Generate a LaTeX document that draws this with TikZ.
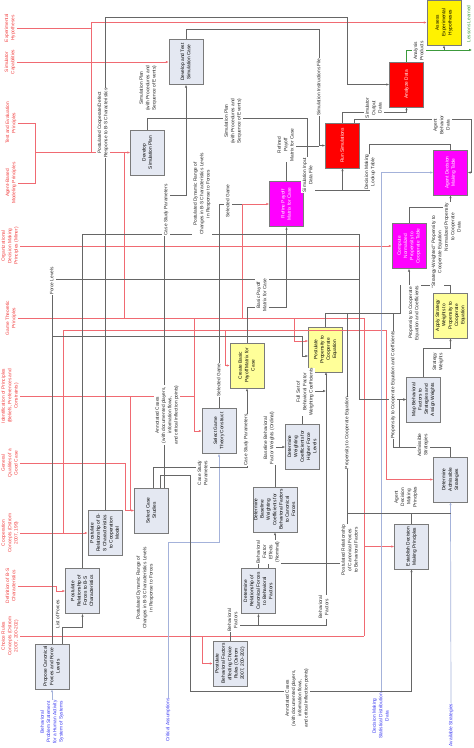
\documentclass[tikz,border=0pt]{standalone}
\usepackage{graphicx}
\usepackage{fontspec}
\setmainfont{Liberation Sans}
\usetikzlibrary{arrows.meta}

\definecolor{boxgray}{HTML}{E4E8F2}
\definecolor{edgegray}{HTML}{7A7A7A}
\definecolor{linegray}{HTML}{666666}
\definecolor{linered}{HTML}{F06A72}
\definecolor{txtred}{HTML}{F03C3C}
\definecolor{lineblue}{HTML}{A4B2DA}
\definecolor{txtblue}{HTML}{3535F0}
\definecolor{boxyellow}{HTML}{FFFF99}
\definecolor{boxmagenta}{HTML}{FF00FF}
\definecolor{boxred}{HTML}{FF0000}
\definecolor{txtgreen}{HTML}{3C9A3C}

% rotated, centred text block
\newcommand{\rt}[1]{\rotatebox{90}{\begin{tabular}{@{}c@{}}#1\end{tabular}}}

\tikzset{
  act/.style = {draw = edgegray, fill = boxgray, line width = 0.6pt,
                minimum width = 34, minimum height = 45, inner sep = 0pt},
  yact/.style = {act, fill = boxyellow},
  mact/.style = {act, fill = boxmagenta, text = white},
  ract/.style = {act, fill = boxred, text = white},
  ctl/.style = {draw = linered, line width = 0.7pt},
  flw/.style = {draw = linegray, line width = 0.7pt},
  mch/.style = {draw = lineblue, line width = 0.7pt},
  tip/.style = {-{Latex[length = 2.8pt, width = 2.4pt]}},
  inlab/.style = {text = txtred},
  mchlab/.style = {text = txtblue},
  arclab/.style = {text = black!85, fill = white}
}

\begin{document}
\begin{tikzpicture}[x = 1pt, y = -1pt,
    every node/.style = {font = \fontsize{4.8}{6.3}\selectfont, inner sep = 0.4pt}]
  \useasboundingbox (0, 0) rectangle (474, 748);

  % activities
  \node [act]  (propose)   at (52, 666.5)   {\rt{Propose Canonical\\Forces and Force\\Levels}};
  \node [act]  (relforces) at (82.5, 591)   {\rt{Postulate\\Relationship of\\Forces to B-S\\Characteristics}};
  \node [act]  (relcoop)   at (105, 533)    {\rt{Postulate\\Relationship of B-\\S Characteristics\\to Cooperation\\Model}};
  \node [act]  (selcase)   at (151.5, 510.5) {\rt{Select Case\\Studies}};
  \node [act]  (devplan)   at (147.5, 152.5) {\rt{Develop\\Simulation Plan}};
  \node [act]  (devcase)   at (186, 62)     {\rt{Develop and Test\\Simulation Case}};
  \node [act]  (selgame)   at (219, 431)    {\rt{Select Game\\Theory Construct}};
  \node [yact] (basicpay)  at (247, 365.5)  {\rt{Create Basic\\Payoff Matrix for\\Case}};
  \node [mact] (refinepay) at (286.5, 204)  {\rt{Refine Payoff\\Matrix for Case}};
  \node [act, minimum width = 43]
               (baseline)  at (275, 509.5)  {\rt{Determine\\Baseline\\Weighting\\Coefficients for\\Behavioral Factors\\to Canonical\\Forces}};
  \node [act]  (higher)    at (302.5, 446.5) {\rt{Determine\\Weighting\\Coefficients for\\Higher Force\\Levels}};
  \node [act]  (relcanon)  at (258.5, 591)  {\rt{Determine\\Relationship of\\Canonical Forces\\to Behavioral\\Factors}};
  \node [act]  (behfact)   at (230, 663.5)  {\rt{Postulate\\Behavioral Factors\\affecting Choice\\Rules (Ostrom\\2007, 200-202)}};
  \node [yact] (propeq)    at (325.5, 349.5) {\rt{Postulate\\Propensity to\\Cooperate\\Equation}};
  \node [mact] (normtab)   at (409, 246)    {\rt{Compute\\Normalized\\Propensity to\\Cooperate Table}};
  \node [mact] (agenttab)  at (450.5, 172.5) {\rt{Agent Decision\\Making Table}};
  \node [yact] (applyw)    at (450.5, 315.5) {\rt{Apply Strategy\\Weights to\\Propensity to\\Cooperate\\Equation}};
  \node [act]  (mapfact)   at (423.5, 399.5) {\rt{Map Behavioral\\Factors to\\Strategies and\\Assign Weights}};
  \node [act]  (admiss)    at (450.5, 479.5) {\rt{Determine\\Admissible\\Strategies}};
  \node [act]  (estprin)   at (411.5, 546.5) {\rt{Establish Decision\\Making Principles}};
  \node [ract] (runsim)    at (342.5, 145.5) {\rt{Run Simulations}};
  \node [ract] (analyze)   at (406.5, 84.5)  {\rt{Analyze Data}};
  \node [act, fill = yellow]
               (assess)    at (444, 22.5)   {\rt{Assess\\Experimental\\Hypotheses}};

  % controls
  \node [inlab] (lhyp)    at (10, 28)  {\rt{Experimental\\Hypotheses}};
  \node [inlab] (lsimcap) at (10, 62)  {\rt{Simulator\\Capabilities}};
  \node [inlab] (ltest)   at (11, 123) {\rt{Test and Evaluation\\Principles}};
  \node [inlab] (lagent)  at (11, 183) {\rt{Agent-Based\\Modeling Principles}};
  \node [inlab] (lorg)    at (10, 246) {\rt{Organizational\\Decision Making\\Principles (Miner)}};
  \node [inlab] (lgame)   at (11, 318) {\rt{Game Theoretic\\Principles}};
  \node [inlab] (lident)  at (10, 396) {\rt{Identification of Principles\\(Beliefs, Preferences and\\Constraints)}};
  \node [inlab] (lqual)   at (10, 463) {\rt{General\\Qualities of a\\Good Case}};
  \node [inlab] (lcoop)   at (10, 533) {\rt{Cooperation\\Concepts (Ostrom\\2007, 199)}};
  \node [inlab] (ldef)    at (11, 586) {\rt{Definition of B-S\\Characteristics}};
  \node [inlab] (lchoice) at (10, 636) {\rt{Choice Rules\\Concepts (Ostrom\\2007, 200-202)}};

  \draw [ctl] (lhyp.east) -- (91, 28);
  \draw [ctl, tip] (91, 152.5) -- (91, 22.5) -- (assess.west);
  \draw [ctl, tip] (lsimcap.east) -- (devcase.west);
  \draw [ctl] (ltest.east) -| (35, 183) -- (lagent.east);
  \draw [ctl, tip] (35, 152.5) -- (devplan.west);
  \draw [ctl] (124, 152.5) -- (124, 318);
  \draw [ctl, tip] (lorg.east) -- (normtab.west);
  \draw [ctl] (lgame.east) -- (364, 318) -- (364, 636);
  \draw [ctl, tip] (194, 318) -- (194, 431) -- (selgame.west);
  \draw [ctl, tip] (242, 318) -- (242, 204) -- (refinepay.west);
  \draw [ctl, tip] (294, 318) -- (294, 341) -- (propeq.west |- 0, 341);
  \draw [ctl] (lident.east) -- (194, 396);
  \draw [ctl] (130, 396) -- (130, 510.5);
  \draw [ctl, tip] (lqual.east) -- (125, 463) -- (125, 510.5) -- (selcase.west);
  \draw [ctl, tip] (lcoop.east) -- (relcoop.west);
  \draw [ctl] (63, 533) -- (63, 330) -- (386, 330);
  \draw [ctl, tip] (386, 330) -- (386, 479.5) -- (admiss.west);
  \draw [ctl, tip] (225, 330) -- (225, 365.5) -- (basicpay.west);
  \draw [ctl, tip] (ldef.east) -- (56, 586) -- (56, 591) -- (relforces.west);
  \draw [ctl] (lchoice.east) -- (364, 636);
  \draw [ctl, tip] (202, 636) -- (202, 663.5) -- (behfact.west);
  \draw [ctl, tip] (364, 546.5) -- (estprin.west);

  % mechanisms
  \node [mchlab] (lprob)  at (52, 722)  {\rt{Behavioral\\Problem Statement\\for a Human Activity\\System of Systems}};
  \node [mchlab] (lcrit)  at (168, 720) {\rt{Critical Assumptions}};
  \node [mchlab] (ldist)  at (381, 716) {\rt{Decision Making\\Statistical Distribution\\Data}};
  \node [mchlab] (lavail) at (451, 725) {\rt{Available Strategies}};
  \draw [mch, tip] (lprob.north) -- (propose.south);
  \draw [mch, tip] (lcrit.north) -- (168, 542) -- (219, 542) -- (selgame.south);
  \draw [mch, tip] (ldist.north) -- (381, 172.5) -- (agenttab.west);
  \draw [mch, tip] (lavail.north) -- (admiss.south);

  % outputs
  \draw [flw, tip] ([xshift = 10]propose.north) -- (62, 627) -- (82.5, 627) -- (relforces.south);
  \draw [flw] (propose.north) -- (52, 279) -- (359, 279);
  \draw [flw, tip] (52, 336) -- (302, 336) -- (302, 356) -- (propeq.west |- 0, 356);
  \draw [flw, tip] (relforces.north) -- (82.5, 234) -- (359, 234) -- (359, 399.5) -- (mapfact.west);
  \draw [flw, tip] (relcoop.north) -- (105, 17) -- (347, 17) -- (347, 84.5) -- (analyze.west);
  \draw [flw, tip] ([xshift = 2]selcase.north) -- (153.5, 467) -- (247, 467) -- (basicpay.south);
  \draw [flw, tip] ([xshift = 9]selcase.north) -- (160.5, 475) -- (190, 475) -- (190, 691) -- (411.5, 691) -- (estprin.south);
  \draw [flw, tip] ([xshift = 13]selcase.north) -- (164.5, 195) -- (186, 195) -- (devcase.south);
  \draw [flw] (selgame.north) -- (219, 204) -- (242, 204);
  \draw [flw, tip] (basicpay.north) -- (247, 307) -- (286.5, 307) -- (refinepay.south);
  \draw [flw] (refinepay.north) -- (286.5, 146) -- (319, 146);
  \draw [flw] (devplan.north) -- (147.5, 118) -- (307, 118);
  \draw [flw, tip] (307, 118) -- (307, 190) -- (342.5, 190) -- (runsim.south);
  \draw [flw, tip] (devcase.north) -- (186, 29) -- (319, 29) -- (319, 145.5) -- (runsim.west);
  \draw [flw, tip] (runsim.north) -- (342.5, 112) -- (406.5, 112) -- (analyze.south);
  \draw [flw, tip] ([xshift = 12]runsim.north) -- (354.5, 119) -- (471, 119) -- (471, 172.5) -- (agenttab.east);
  \draw [flw] (agenttab.north) -- (450.5, 144) -- (369, 144) -- (369, 190) -- (342.5, 190);
  \draw [draw = txtgreen, line width = 0.7pt, tip] (analyze.north) -- (406.5, 50) -- (472, 50);
  \draw [flw, tip] (444, 50) -- (assess.south);
  \draw [flw, tip] (normtab.north) -- (409, 207) -- (450.5, 207) -- (agenttab.south);
  \draw [flw, tip] (applyw.north) -- (450.5, 285) -- (409, 285) -- (normtab.south);
  \draw [flw] (propeq.north) -- (325.5, 313) -- (400, 313) -- (400, 285);
  \draw [flw] (393, 313) -- (393, 447) -- (399, 447);
  \draw [flw] (347, 313) -- (347, 513);
  \draw [flw, tip] (mapfact.north) -- (423.5, 348) -- (450.5, 348) -- (applyw.south);
  \draw [flw, tip] (admiss.north) -- (450.5, 447) -- (399, 447) -- (399, 399.5) -- (mapfact.west);
  \draw [flw] (estprin.north) -- (411.5, 513) -- (451, 513);
  \draw [flw] (347, 513) -- (411.5, 513);
  \draw [flw] ([xshift = 10]relcanon.north) -- (268.5, 563) -- (347, 563) -- (347, 513);
  \draw [flw, tip] (baseline.north) -- (275, 447) -- (higher.west |- 0, 447);
  \draw [flw, tip] (higher.north) -- (302.5, 391) -- (326, 391);
  \draw [flw, tip] (relcanon.north) -- (258.5, 548) -- (275, 548) -- (baseline.south);
  \draw [flw, tip] (behfact.north) -- (230, 625) -- (258.5, 625) -- (relcanon.south);
  \draw [flw, tip] (258.5, 625) -- (326, 625) -- (326, 372);

  % arrow labels
  \node [arclab] (tforce)  at (52, 281)    {\rt{Force Levels}};
  \node [arclab] (tlist)   at (58, 614)    {\rt{List of Forces}};
  \node [arclab] (trange)  at (145, 588)   {\rt{Postulated Dynamic Range of\\Changes in B-S Characteristics Levels\\in Response to Forces}};
  \node [arclab] (trange2) at (202, 194)   {\rt{Postulated Dynamic Range of\\Changes in B-S Characteristics Levels\\in Response to Forces}};
  \node [arclab] (tcoop)   at (103, 123)   {\rt{Postulated Cooperate/Defect\\Response to B-S Characteristics}};
  \node [arclab] (tplan)   at (148, 88)    {\rt{Simulation Plan\\(with Procedures and\\Sequence of Events)}};
  \node [arclab] (tplan2)  at (233, 121)   {\rt{Simulation Plan\\(with Procedures and\\Sequence of Events)}};
  \node [arclab] (tparam)  at (166, 210)   {\rt{Case Study Parameters}};
  \node [arclab] (tparam2) at (203, 473)   {\rt{Case Study\\Parameters}};
  \node [arclab] (tparam3) at (246, 440)   {\rt{Case Study Parameters}};
  \node [arclab] (tgame)   at (228, 201)   {\rt{Selected Game}};
  \node [arclab] (tgame2)  at (219, 380)   {\rt{Selected Game}};
  \node [arclab] (tannot)  at (167, 415)   {\rt{Annotated Cases\\(with documented players,\\information flows,\\and critical inflection points)}};
  \node [arclab] (tannot2) at (297, 698)   {\rt{Annotated Cases\\(with documented players,\\information flows,\\and critical inflection points)}};
  \node [arclab] (trefine) at (286, 145)   {\rt{Refined\\Payoff\\Matrix for Case}};
  \node [arclab] (tinput)  at (308, 175)   {\rt{Simulation Input\\Data File}};
  \node [arclab] (tinstr)  at (319, 87)    {\rt{Simulation Instructions File}};
  \node [arclab] (tbasic)  at (262, 295)   {\rt{Basic Payoff\\Matrix for Case}};
  \node [arclab] (tfull)   at (305, 392)   {\rt{Full Set of\\Behavioral Factor\\Weighting Coefficients}};
  \node [arclab] (tbase)   at (269, 438)   {\rt{Baseline Behavioral\\Factor Weights (Ordinal)}};
  \node [arclab] (teff)    at (268, 552)   {\rt{Behavioral\\Factor\\Effects\\(Nominal)}};
  \node [arclab] (tbeh)    at (233, 620)   {\rt{Behavioral\\Factors}};
  \node [arclab] (tbeh2)   at (324, 607)   {\rt{Behavioral\\Factors}};
  \node [arclab] (treln)   at (350, 550)   {\rt{Postulated Relationship\\of Canonical Forces\\to Behavioral Factors}};
  \node [arclab] (tpeq)    at (347, 433)   {\rt{Propensity to Cooperate Equation}};
  \node [arclab] (tpeq2)   at (393, 385)   {\rt{Propensity to Cooperate Equation and Coefficients}};
  \node [arclab] (tpeq3)   at (414, 313)   {\rt{Propensity to Cooperate\\Equation and Coefficients}};
  \node [arclab] (tsw)     at (437, 252)   {\rt{``Strategy-Weighted'' Propensity to\\Cooperate Equation}};
  \node [arclab] (tnorm)   at (453, 227)   {\rt{Normalized Propensity\\to Cooperate\\Data}};
  \node [arclab] (tlook)   at (370, 172)   {\rt{Decision Making\\Lookup Table}};
  \node [arclab] (tbehav)  at (442, 125)   {\rt{Agent\\Behavior\\Data}};
  \node [arclab] (tout)    at (374, 108)   {\rt{Simulator\\Output\\Data}};
  \node [arclab] (tprod)   at (419, 51)    {\rt{Analysis\\Products}};
  \node [text = txtgreen] (tlessons) at (469, 24) {\rt{Lessons Learned}};
  \node [arclab] (tweights) at (438, 362)  {\rt{Strategy\\Weights}};
  \node [arclab] (tadm)    at (423, 445)   {\rt{Admissible\\Strategies}};
  \node [arclab] (tprin)   at (406, 497)   {\rt{Agent\\Decision\\Making\\Principles}};
\end{tikzpicture}
\end{document}
